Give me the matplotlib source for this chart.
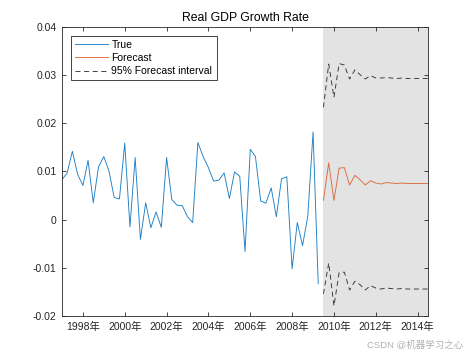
import numpy as np
import pandas as pd
import matplotlib
matplotlib.use('Agg')
import matplotlib.pyplot as plt
import matplotlib.dates as mdates

plt.rcParams['font.family'] = ['Liberation Sans', 'Noto Sans CJK SC', 'DejaVu Sans']
plt.rcParams['lines.scale_dashes'] = False

# quarterly real GDP growth, 1997Q1 - 2009Q2
true_vals = [0.0083, 0.0097, 0.0142, 0.0094, 0.0071, 0.0123, 0.0035, 0.0110, 0.0131, 0.0101,
             0.0046, 0.0043, 0.0159, -0.0015, 0.0129, -0.0041, 0.0035, -0.0017, 0.0016, -0.0016,
             0.0129, 0.0042, 0.0030, 0.0029, 0.0006, -0.0006, 0.0160, 0.0131, 0.0108, 0.0080,
             0.0082, 0.0097, 0.0044, 0.0099, 0.0090, -0.0066, 0.0146, 0.0131, 0.0039, 0.0034,
             0.0066, 0.0006, 0.0085, 0.0089, -0.0102, -0.0006, -0.0054, 0.0007, 0.0182, -0.0133]

# forecast 2009Q3 - 2014Q3
forecast = [0.0040, 0.0118, 0.0040, 0.0107, 0.0108, 0.0072, 0.0092, 0.0083, 0.0072, 0.0081,
            0.0076, 0.0074, 0.0077, 0.0076, 0.0075, 0.0076, 0.0075, 0.0075, 0.0075, 0.0075, 0.0075]
upper = [0.0233, 0.0323, 0.0254, 0.0324, 0.0321, 0.0292, 0.0311, 0.0301, 0.0292, 0.0299,
         0.0294, 0.0294, 0.0295, 0.0294, 0.0293, 0.0294, 0.0293, 0.0293, 0.0293, 0.0293, 0.0293]
lower = [-0.0154, -0.0090, -0.0179, -0.0110, -0.0109, -0.0146, -0.0128, -0.0135, -0.0146, -0.0137,
         -0.0142, -0.0144, -0.0142, -0.0143, -0.0144, -0.0143, -0.0144, -0.0144, -0.0144, -0.0144, -0.0144]

true_dates = pd.date_range('1997-01-01', periods=len(true_vals), freq='QS')
fc_dates = pd.date_range('2009-07-01', periods=len(forecast), freq='QS')

dark = '#262626'

fig = plt.figure(figsize=(4.74, 3.55), dpi=100)
ax = fig.add_axes([0.1308, 0.1099, 0.7722, 0.8141])

ax.axvspan(fc_dates[0], fc_dates[-1], color='#e3e3e3', lw=0, zorder=0)
ax.plot(true_dates, true_vals, color='#1f7fc4', lw=0.65, label='True')
ax.plot(fc_dates, forecast, color='#dc6a3c', lw=0.65, label='Forecast')
ax.plot(fc_dates, upper, color='#333333', lw=0.65, ls='--', dashes=(3.6, 2.6),
        label='95% Forecast interval')
ax.plot(fc_dates, lower, color='#333333', lw=0.65, ls='--', dashes=(3.6, 2.6))

ax.set_xlim(pd.Timestamp('1997-01-01'), fc_dates[-1])
ax.set_ylim(-0.02, 0.04)
ax.set_yticks(np.arange(-0.02, 0.041, 0.01))
ax.set_yticklabels(['-0.02', '-0.01', '0', '0.01', '0.02', '0.03', '0.04'])
ax.xaxis.set_major_locator(mdates.YearLocator(2))
ax.xaxis.set_major_formatter(mdates.DateFormatter('%Y年'))

ax.tick_params(direction='in', length=3, width=0.6, colors=dark, labelsize=7.5,
               top=True, right=True, pad=4)
for s in ax.spines.values():
    s.set_color(dark)
    s.set_linewidth(0.6)

ax.set_title('Real GDP Growth Rate', fontsize=8.8, color='black', pad=4)

leg = ax.legend(loc='upper left', fontsize=7.5, fancybox=False, edgecolor=dark,
                framealpha=1, handlelength=3.2, borderaxespad=0.85, labelspacing=0.3,
                borderpad=0.4, handletextpad=0.3)
leg.get_frame().set_linewidth(0.6)

fig.text(0.977, 0.028, 'CSDN @机器学习之心', ha='right', va='center', fontsize=6.8,
         color='#b0b0b0')

fig.savefig('out.png', dpi=100)
